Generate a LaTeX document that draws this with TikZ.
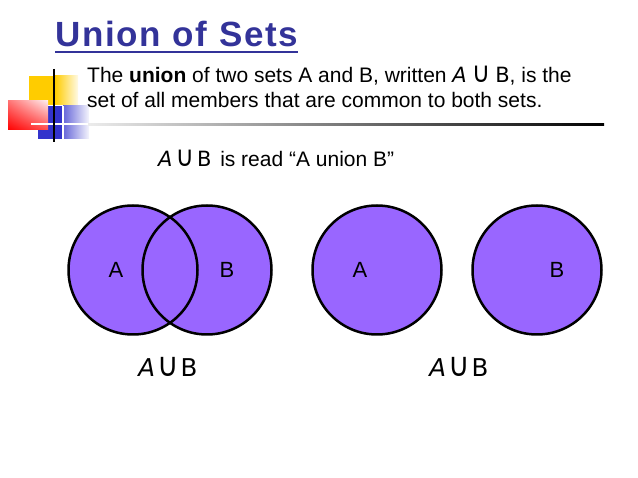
\documentclass[tikz,border=0pt]{standalone}
\usepackage{fontspec}
\setmainfont{Liberation Sans}
\newfontfamily\unionfont{DejaVu Sans}
\usepackage{tikz}
\usetikzlibrary{shapes, positioning, shadings}
\definecolor{titleblue}{RGB}{51,51,153}
\definecolor{setviolet}{RGB}{153,102,255}
\definecolor{gold}{RGB}{255,204,0}
\definecolor{decoblue}{RGB}{51,51,204}
\tikzstyle{title}    = [inner sep=0pt, text=titleblue, font=\fontsize{35}{40}\selectfont\bfseries\addfontfeature{LetterSpace=5}]
\tikzstyle{body}     = [inner sep=0pt, font=\fontsize{21}{25}\selectfont]
\tikzstyle{set}      = [circle, fill=setviolet, minimum size=129pt, inner sep=0pt]
\tikzstyle{setname}  = [inner sep=0pt, font=\fontsize{22}{26}\selectfont]
\tikzstyle{unionsym} = [inner sep=0pt, font=\fontsize{24.5}{28}\selectfont]
\tikzstyle{rim}      = [draw, line width=2.5pt]
\newcommand{\AuB}[1]{{\unionfont\itshape A\hspace{#1}\upshape\scalebox{1.2}[1.35]{∪}\hspace{#1}B}}

\begin{document}
\begin{tikzpicture}[x=1pt, y=-1pt]
    \useasboundingbox (0,0) rectangle (638,478);
    % heading
    \node[title, anchor=base west](title) at (55,47){Union of Sets};
    \draw[titleblue, line width=1.8pt]([yshift=-5pt]title.base west) -- ([yshift=-5pt]title.base east);
    % corner ornament
    \fill[gold] (29,76) rectangle (55,105);
    \shade[left color=gold, right color=gold!10] (55,76) rectangle (78,105);
    \fill[decoblue] (38,106) rectangle (63,139);
    \shade[left color=decoblue!75, right color=decoblue!5] (63,106) rectangle (89,139);
    \shade[lower left=red, upper right=red!8, upper left=red!55, lower right=red!70] (8,101) rectangle (48,130);
    \draw[white, line width=2pt] (31,124) -- (90,124);
    \draw[white, line width=2pt] (63,106) -- (63,139);
    \draw[black, line width=2pt] (54,69) -- (54,142);
    \shade[left color=gray!15, right color=black] (88,123.5) rectangle (604,125.5);
    % definition
    \node[body, anchor=base west](line1) at (87,83){The \textbf{union} of two sets A and B, written \AuB{5pt}, is the};
    \node[body, anchor=base west](line2) at ([yshift=-25pt]line1.base west){set of all members that are common to both sets.};
    \node[body, anchor=base west](read) at (158,167){\AuB{3pt}\hspace{3pt} is read “A union B”};
    % overlapping sets
    \node[set](a1) at (133,270){};
    \node[set, right of=a1, node distance=74pt](b1){};
    % separate sets
    \node[set](a2) at (377,270){};
    \node[set, right of=a2, node distance=160pt](b2){};
    \foreach \s in {a1,b1,a2,b2}
        \draw[rim] (\s) circle (64.5pt);
    \node[setname](na1) at ([xshift=-17pt]a1){A};
    \node[setname](nb1) at ([xshift=20pt]b1){B};
    \node[setname](na2) at ([xshift=-17pt]a2){A};
    \node[setname](nb2) at ([xshift=20pt]b2){B};
    \node[unionsym, anchor=base](u1) at (168,377){\AuB{2pt}};
    \node[unionsym, anchor=base](u2) at (459,377){\AuB{2pt}};
\end{tikzpicture}
\end{document}
